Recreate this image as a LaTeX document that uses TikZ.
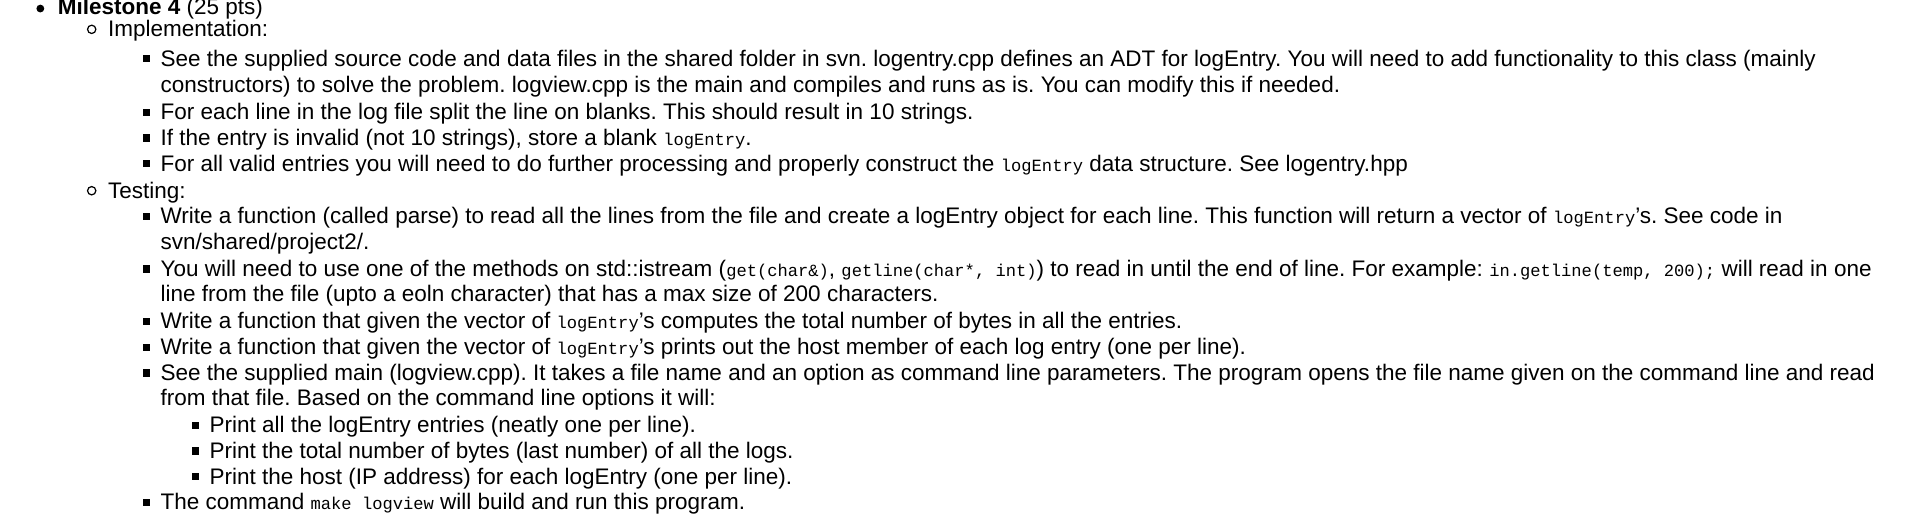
\documentclass[tikz,border=0pt]{standalone}
\usepackage{fontspec}
\setmainfont{Liberation Sans}
\setmonofont{Liberation Mono}
\newcommand{\cd}[1]{{\fontsize{7.0pt}{9pt}\ttfamily #1}}
\begin{document}
\frenchspacing
\begin{tikzpicture}[x=0.5pt,y=-0.5pt,
  tx/.style={anchor=base west,inner sep=0pt,font=\fontsize{9.2pt}{11pt}\selectfont},
  b1/.style={fill=black,circle,inner sep=0pt,minimum size=3.2pt},
  b2/.style={draw=black,circle,inner sep=0pt,minimum size=3.4pt,line width=0.5pt},
  b3/.style={fill=black,inner sep=0pt,minimum size=3pt}]
\useasboundingbox (0,0) rectangle (1568,427);
\clip (0,0) rectangle (1568,427);
\node[b1] (m1) at (33,7) {};
\node[tx] (t1) at (47,12) {\textbf{Milestone 4} (25 pts)};
\node[b2] (m2) at (75,24) {};
\node[tx] (t2) at (88,30) {Implementation:};
\node[b3] (m3) at (120,48) {};
\node[tx] (t3) at (131,54) {See the supplied source code and data files in the shared folder in svn. logentry.cpp defines an ADT for logEntry. You will need to add functionality to this class (mainly};
\node[tx] (t3b) at (131,76) {constructors) to solve the problem. logview.cpp is the main and compiles and runs as is. You can modify this if needed.};
\node[b3] (m4) at (120,92) {};
\node[tx] (t4) at (131,98) {For each line in the log file split the line on blanks. This should result in 10 strings.};
\node[b3] (m5) at (120,113) {};
\node[tx] (t5) at (131,119) {If the entry is invalid (not 10 strings), store a blank \cd{logEntry}.};
\node[b3] (m6) at (120,134) {};
\node[tx] (t6) at (131,140) {For all valid entries you will need to do further processing and properly construct the \cd{logEntry} data structure. See logentry.hpp};
\node[b2] (m7) at (75,156) {};
\node[tx] (t7) at (88,162) {Testing:};
\node[b3] (m8) at (120,177) {};
\node[tx] (t8) at (131,183) {Write a function (called parse) to read all the lines from the file and create a logEntry object for each line. This function will return a vector of \cd{logEntry}'s. See code in};
\node[tx] (t8b) at (131,204) {svn/shared/project2/.};
\node[b3] (m9) at (120,220) {};
\node[tx] (t9) at (131,226) {You will need to use one of the methods on std::istream (\cd{get(char\&)}, \cd{getline(char*, int)}) to read in until the end of line. For example: \cd{in.getline(temp, 200);} will read in one};
\node[tx] (t9b) at (131,247) {line from the file (upto a eoln character) that has a max size of 200 characters.};
\node[b3] (m10) at (120,263) {};
\node[tx] (t10) at (131,269) {Write a function that given the vector of \cd{logEntry}'s computes the total number of bytes in all the entries.};
\node[b3] (m11) at (120,284) {};
\node[tx] (t11) at (131,290) {Write a function that given the vector of \cd{logEntry}'s prints out the host member of each log entry (one per line).};
\node[b3] (m12) at (120,305) {};
\node[tx] (t12) at (131,311) {See the supplied main (logview.cpp). It takes a file name and an option as command line parameters. The program opens the file name given on the command line and read};
\node[tx] (t12b) at (131,332) {from that file. Based on the command line options it will:};
\node[b3] (m13) at (160,348) {};
\node[tx] (t13) at (171,354) {Print all the logEntry entries (neatly one per line).};
\node[b3] (m14) at (160,369) {};
\node[tx] (t14) at (171,375) {Print the total number of bytes (last number) of all the logs.};
\node[b3] (m15) at (160,390) {};
\node[tx] (t15) at (171,396) {Print the host (IP address) for each logEntry (one per line).};
\node[b3] (m16) at (120,411) {};
\node[tx] (t16) at (131,417) {The command \cd{make logview} will build and run this program.};
\end{tikzpicture}
\end{document}
